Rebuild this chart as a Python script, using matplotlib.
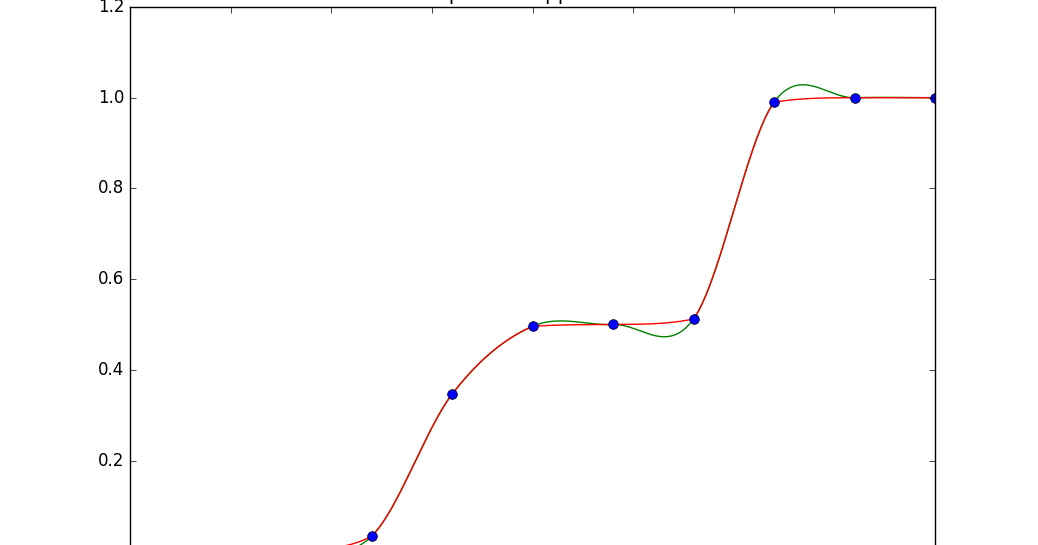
import numpy as np
import matplotlib.pyplot as plt

# sample points
x_pts = [0.0, 0.8, 1.6, 2.4, 3.2, 4.0, 4.8, 5.6, 6.4, 7.2, 8.0]
y_pts = [0.0, 0.0, 0.002, 0.033, 0.346, 0.496, 0.500, 0.512, 0.990, 1.000, 1.000]
y_ticks = [0.2, 0.4, 0.6, 0.8, 1.0, 1.2]
x_ticks = [0, 1, 2, 3, 4, 5, 6, 7, 8]
title = "Spline vs approx fit"

# ---------------------------------------------------------------------------------

def hermite_seg(x0, x1, y0, y1, m0, m1, xs):
    h = x1 - x0
    t = (xs - x0) / h
    h00 = 2 * t**3 - 3 * t**2 + 1
    h10 = t**3 - 2 * t**2 + t
    h01 = -2 * t**3 + 3 * t**2
    h11 = t**3 - t**2
    return h00 * y0 + h10 * h * m0 + h01 * y1 + h11 * h * m1


def piecewise(x, y, xs, monotone=False):
    # cubic hermite with central difference tangents,
    # optionally limited segment by segment (Fritsch-Carlson)
    x = np.asarray(x); y = np.asarray(y)
    m = np.gradient(y, x)
    out = np.zeros_like(xs)
    for k in range(len(x) - 1):
        if k < len(x) - 2:
            sel = (xs >= x[k]) & (xs < x[k + 1])
        else:
            sel = (xs >= x[k]) & (xs <= x[k + 1])
        m0, m1 = m[k], m[k + 1]
        if monotone:
            d = (y[k + 1] - y[k]) / (x[k + 1] - x[k])
            if d == 0:
                m0 = m1 = 0.0
            else:
                a = max(m0 / d, 0.0)
                b = max(m1 / d, 0.0)
                r = np.hypot(a, b)
                if r > 3:
                    a, b = a * 3 / r, b * 3 / r
                m0, m1 = a * d, b * d
        out[sel] = hermite_seg(x[k], x[k + 1], y[k], y[k + 1], m0, m1, xs[sel])
    return out

# ---------------------------------------------------------------------------------

plt.style.use('classic')
fig = plt.figure(figsize=(10.38, 5.45), dpi=100, facecolor='w')
ax = fig.add_axes([130/1038, -97/545, 805/1038, 635/545])

xs = np.linspace(x_pts[0], x_pts[-1], 800)
ax.plot(xs, piecewise(x_pts, y_pts, xs), '-', color='g', lw=1)
ax.plot(xs, piecewise(x_pts, y_pts, xs, monotone=True), '-', color='r', lw=1)
ax.plot(x_pts, y_pts, 'o', mfc='b', mec='k', mew=0.5, ms=7)

ax.set_xlim(0, 8)
ax.set_ylim(-0.2, 1.2)
ax.set_yticks(y_ticks)
ax.set_xticks(x_ticks)
ax.set_title(title)

plt.savefig('out.png', dpi=100, facecolor='w')
